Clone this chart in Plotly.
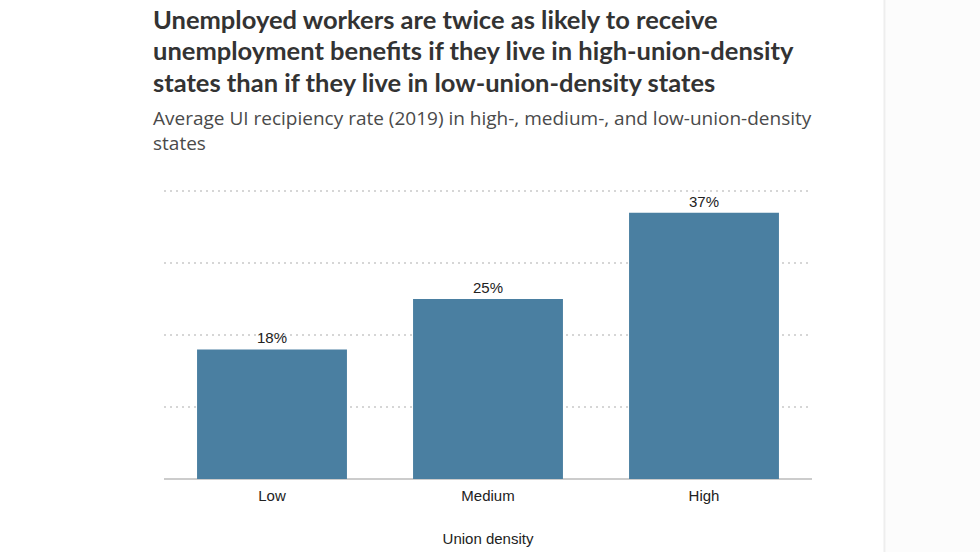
import plotly.graph_objects as go

categories = ["Low", "Medium", "High"]
values = [18, 25, 37]
y_ticks = [0, 10, 20, 30, 40]

title_lines = ["Unemployed workers are twice as likely to receive",
               "unemployment benefits if they live in high-union-density",
               "states than if they live in low-union-density states"]
subtitle_lines = ["Average UI recipiency rate (2019) in high-, medium-, and low-union-density",
                  "states"]

W, H = 980, 552
L, R, T, B = 164, 168, 184, 73
ph = H - T - B
pw = W - L - R

def py(pix):
    return 1 + (T - pix) / ph

def px(pix):
    return (pix - L) / pw

fig = go.Figure()
fig.add_trace(go.Bar(
    x=categories, y=values,
    marker=dict(color="#4a7fa1", line=dict(width=0)),
    text=[f"{v}%" for v in values],
    textposition="outside",
    textfont=dict(family="Liberation Sans, Arial", size=15, color="#222"),
    cliponaxis=False,
    hoverinfo="skip",
))

fig.update_layout(
    width=W, height=H,
    margin=dict(l=L, r=R, t=T, b=B, pad=0, autoexpand=False),
    plot_bgcolor="white", paper_bgcolor="white",
    bargap=0.306,
    showlegend=False,
    xaxis=dict(
        showgrid=False, showline=False, zeroline=False,
        ticks="", ticklabelstandoff=6,
        tickfont=dict(family="Liberation Sans, Arial", size=15, color="#222"),
        title=dict(text="Union density", font=dict(family="Liberation Sans, Arial", size=15, color="#222"), standoff=30),
    ),
    yaxis=dict(
        range=[0, 41], tickvals=y_ticks, showticklabels=False,
        showgrid=True, gridcolor="#d6d6d6", griddash="2px,4px", gridwidth=2,
        zeroline=True, zerolinecolor="#cccccc", zerolinewidth=2,
        showline=False, ticks="",
    ),
    font=dict(family="Liberation Sans, Arial"),
)

# Title: one text block; line spacing follows the outer size, glyphs use the inner size
title_html = "<br>".join(f'<span style="font-size:25.5px">{t}</span>' for t in title_lines)
fig.add_annotation(
    text=title_html, xref="paper", yref="paper", x=px(151), y=py(50.5),
    xanchor="left", yanchor="middle", align="left", showarrow=False,
    font=dict(family="Lato", size=24.1, color="#333333", weight="bold"),
)
fig.add_annotation(
    text="<br>".join(subtitle_lines), xref="paper", yref="paper", x=px(151), y=py(130.5),
    xanchor="left", yanchor="middle", align="left", showarrow=False,
    font=dict(family="Open Sans", size=19, color="#4a4a4a"),
)

fig.add_shape(type="line", xref="paper", yref="paper",
              x0=px(884.5), x1=px(884.5), y0=py(0), y1=py(H),
              line=dict(color="#eeeeee", width=2))
fig.add_shape(type="rect", xref="paper", yref="paper",
              x0=px(886), x1=px(W), y0=py(0), y1=py(H),
              fillcolor="#fcfcfc", line=dict(width=0), layer="below")

fig.write_html("out.html")
